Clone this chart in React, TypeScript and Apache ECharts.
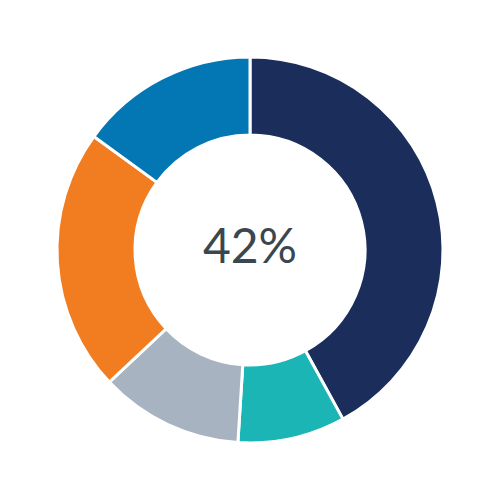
import { useEffect, useRef } from "react";
import * as echarts from "echarts";

const labels = ["Navy", "Teal", "Gray", "Orange", "Blue"];
const values = [42, 9, 12, 22, 15];
const colors = ["#1b2d5b", "#1bb5b6", "#a8b3c2", "#f27c20", "#0377b3"];
const centerText = "42%";

const App = () => {
  const chartRef = useRef(null);

  useEffect(() => {
    document.body.style.margin = "0";
    const chart = echarts.init(chartRef.current, null, { renderer: "svg" });

    const option = {
      animation: false,
      backgroundColor: "#ffffff",
      title: {
        text: centerText,
        left: "center",
        top: 215,
        textStyle: {
          fontFamily: "Lato",
          fontSize: 48,
          fontWeight: "normal",
          color: "#3b474f",
        },
      },
      series: [
        {
          type: "pie",
          radius: [115, 193],
          center: [250, 250],
          startAngle: 90,
          clockwise: true,
          label: { show: false },
          labelLine: { show: false },
          itemStyle: { borderColor: "#ffffff", borderWidth: 3 },
          emphasis: { disabled: true },
          data: values.map((v, i) => ({
            name: labels[i],
            value: v,
            itemStyle: { color: colors[i] },
          })),
        },
      ],
    };
    chart.setOption(option);

    // 组件卸载时销毁图表实例
    return () => {
      chart.dispose();
    };
  }, []);

  return <div ref={chartRef} style={{ height: 500, width: 500 }} />;
};

export default App;
